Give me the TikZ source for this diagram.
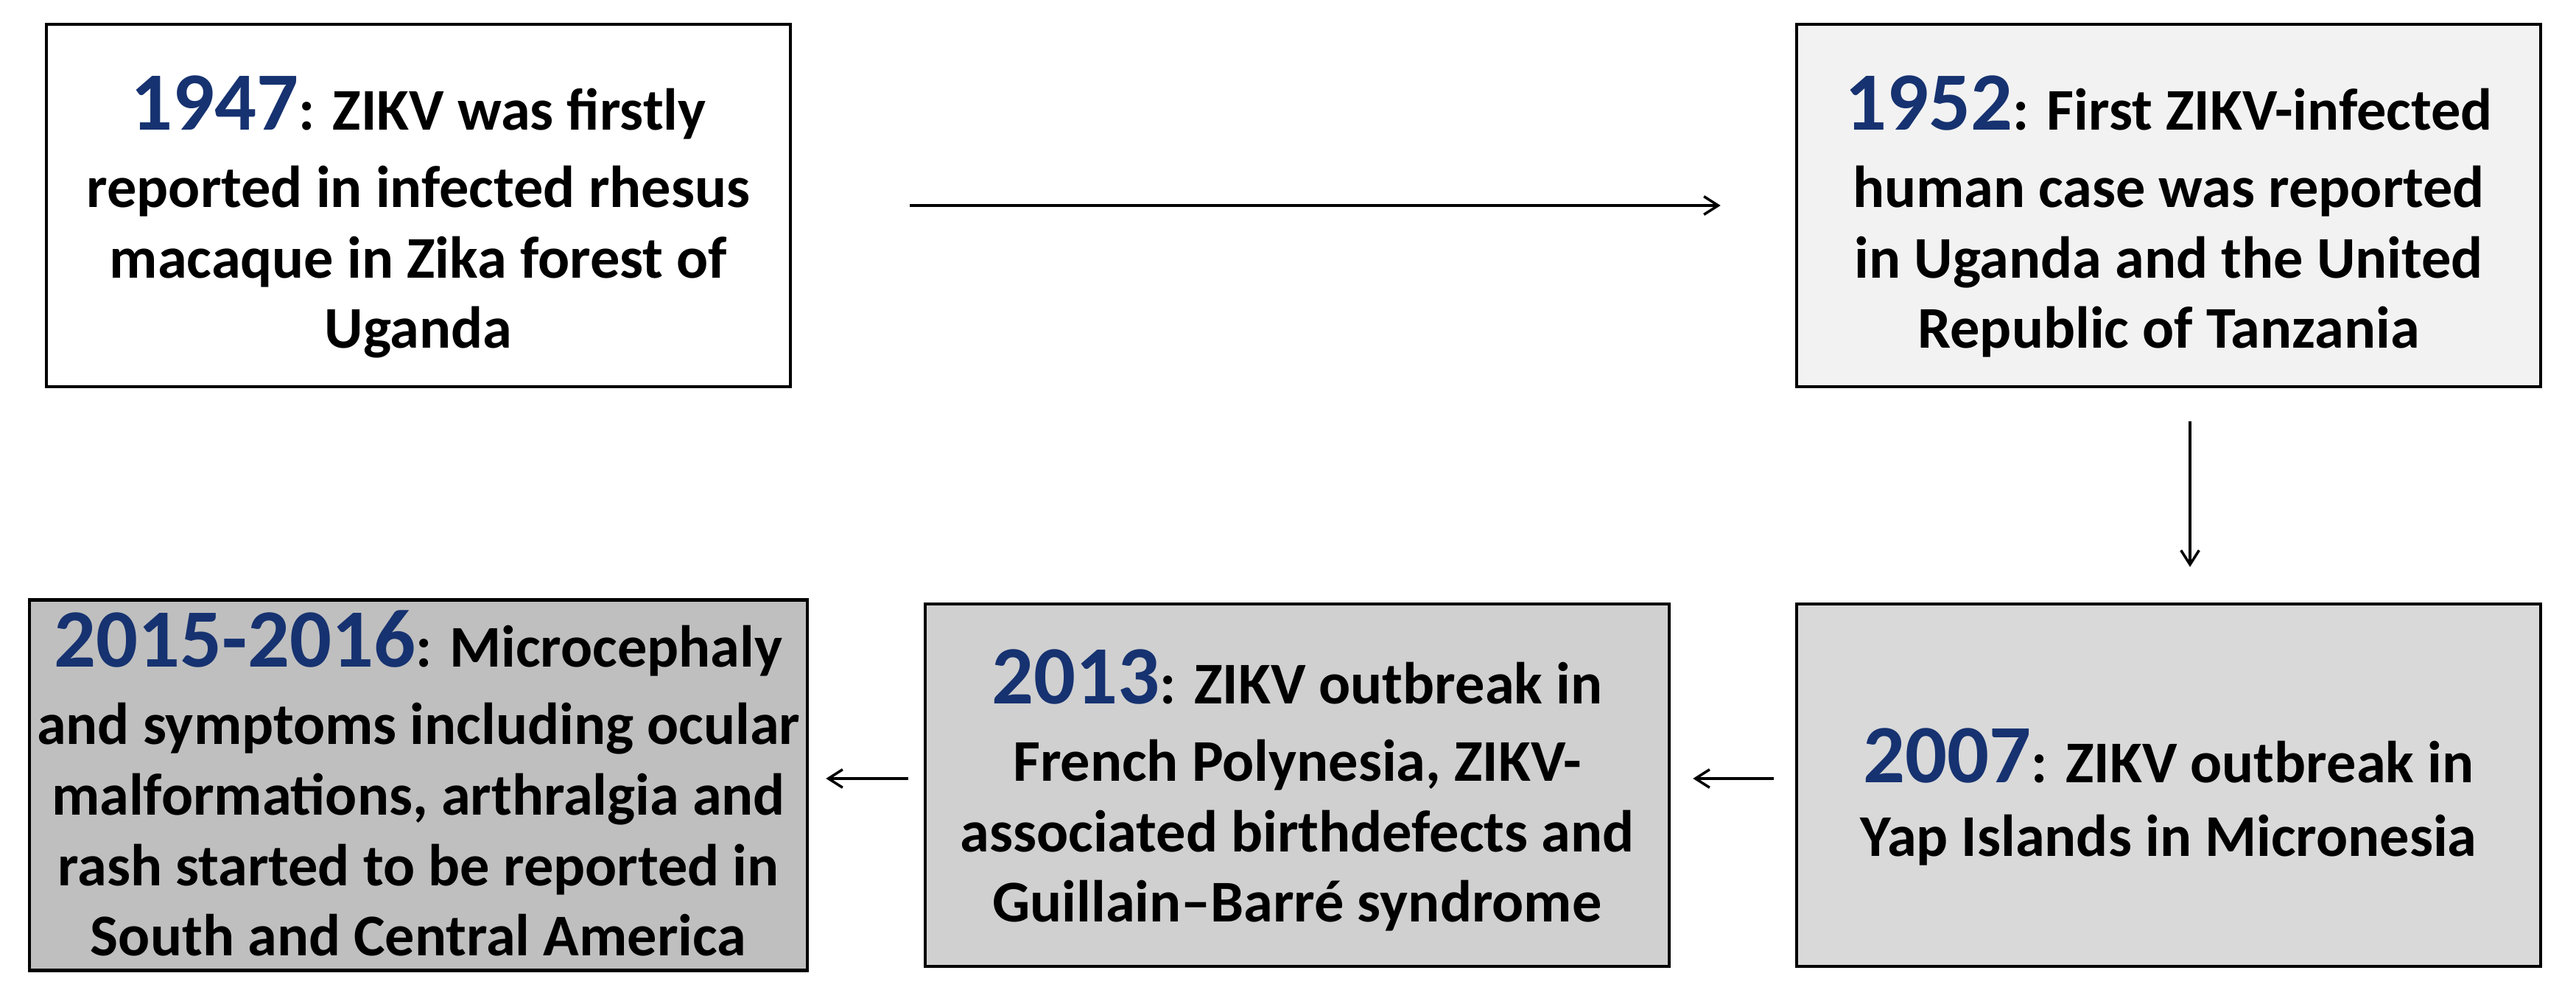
\documentclass[tikz,border=0pt]{standalone}
\usepackage{fontspec}
\setmainfont{Carlito}
\usetikzlibrary{arrows.meta, positioning}
\definecolor{yearblue}{RGB}{22,50,112}
\definecolor{grayA}{RGB}{242,242,242}
\definecolor{grayB}{RGB}{217,217,217}
\definecolor{grayC}{RGB}{208,208,208}
\definecolor{grayD}{RGB}{191,191,191}
% year in blue, with a strut that sets where the first line sits
\newcommand{\zyear}[2]{\rule{0pt}{#1}{\fontsize{32}{27.2}\selectfont\color{yearblue}#2}}
\newcommand{\zend}{\rule[-0.2cm]{0pt}{0.2cm}}

\begin{document}
\begin{tikzpicture}[-{Straight Barb[length=5.5pt,width=7pt]}, node distance=7.87cm and 23.76cm, on grid, line width=1pt]
      \tikzstyle{event}=[draw=black, line width=1.3pt, align=center, minimum width=10.1cm, minimum height=4.92cm, inner sep=0pt, font=\bfseries\fontsize{22.85}{27.2}\selectfont]
      \useasboundingbox (0,0) rectangle (34.97,-13.40);
      \node[event, fill=white] (b1947) at (5.68,-2.79) {\zyear{1.11cm}{1947}: ZIKV was firstly\\[0.1cm]reported in infected rhesus\\macaque in Zika forest of\\Uganda\zend};
      \node[event, fill=grayA] (b1952) [right = of b1947] {\zyear{1.11cm}{1952}: First ZIKV-infected\\[0.1cm]human case was reported\\in Uganda and the United\\Republic of Tanzania\zend};
      \node[event, fill=grayB] (b2007) [below = of b1952] {\zyear{1.13cm}{2007}: ZIKV outbreak in\\[0.05cm]Yap Islands in Micronesia\zend};
      \node[event, fill=grayC] (b2013) [left = 11.83cm of b2007] {\zyear{0.95cm}{2013}: ZIKV outbreak in\\[0.1cm]French Polynesia, ZIKV-\\associated birthdefects and\\Guillain--Barré syndrome\zend};
      \node[event, fill=grayD, minimum width=10.56cm] (b2015) [left = 11.93cm of b2013] {\zyear{0.91cm}{2015-2016}: Microcephaly\\[0.1cm]and symptoms including ocular\\malformations, arthralgia and\\rash started to be reported in\\South and Central America\zend};
      \draw[shorten <=1.6cm, shorten >=1.01cm] (b1947) -- (b1952);
      \draw[shorten <=0.45cm, shorten >=0.48cm] ([xshift=0.29cm]b1952.south) -- ([xshift=0.29cm]b2007.north);
      \draw[shorten <=0.29cm, shorten >=0.3cm] ([yshift=0.09cm]b2007.west) -- ([yshift=0.09cm]b2013.east);
      \draw[shorten <=0.21cm, shorten >=0.23cm] ([yshift=0.09cm]b2013.west) -- ([yshift=0.09cm]b2015.east);
    \end{tikzpicture}
\end{document}
